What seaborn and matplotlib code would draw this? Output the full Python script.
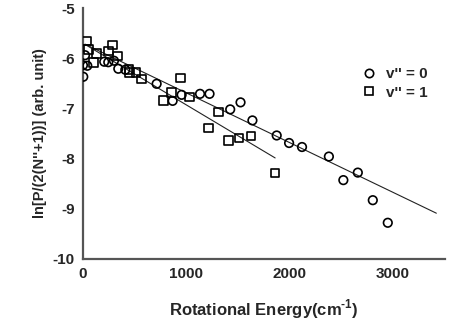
import numpy as np
import pandas as pd
import matplotlib
matplotlib.use("Agg")
import matplotlib.pyplot as plt
import seaborn as sns

# v'' = 0 (circles)
v0_x = [3, 0, 42, 20, 206, 245, 300, 342, 410, 713, 868, 955, 1133, 1225, 1425, 1525, 1640, 1875, 1995, 2120, 2380, 2520, 2660, 2805, 2950]
v0_y = [-6.37, -6.14, -6.15, -5.94, -6.07, -6.08, -6.05, -6.21, -6.23, -6.51, -6.85, -6.73, -6.71, -6.71, -7.02, -6.88, -7.24, -7.54, -7.69, -7.77, -7.96, -8.43, -8.28, -8.83, -9.28]
# v'' = 1 (squares)
v1_x = [36, 51, 100, 132, 245, 287, 336, 445, 450, 513, 568, 777, 859, 946, 1029, 1216, 1313, 1411, 1511, 1626, 1859]
v1_y = [-5.66, -5.83, -6.09, -5.91, -5.86, -5.74, -5.96, -6.23, -6.29, -6.29, -6.41, -6.84, -6.68, -6.39, -6.77, -7.39, -7.07, -7.64, -7.59, -7.55, -8.29]

# fitted lines (intercept, slope, x-range)
fit0 = dict(intercept=-5.70, slope=-0.000991, xmin=20, xmax=3420)
fit1 = dict(intercept=-5.70, slope=-0.00123, xmin=20, xmax=1860)

labels = ["v'' = 0", "v'' = 1"]
x_ticks = [0, 1000, 2000, 3000]
y_ticks = [-10, -9, -8, -7, -6, -5]

sns.set_style("white")
plt.rcParams['font.family'] = ['Liberation Sans', 'DejaVu Sans']
plt.rcParams['font.weight'] = 'bold'
plt.rcParams['mathtext.fontset'] = 'custom'
plt.rcParams['mathtext.rm'] = 'Liberation Sans:bold'
plt.rcParams['mathtext.bf'] = 'Liberation Sans:bold'

df = pd.DataFrame({
    "E": v0_x + v1_x,
    "lnP": v0_y + v1_y,
    "state": [labels[0]] * len(v0_x) + [labels[1]] * len(v1_x),
})

fig = plt.figure(figsize=(4.74, 3.22), dpi=100)
ax = fig.add_axes([0.175, 0.196, 0.763, 0.779])

for f in (fit0, fit1):
    xs = np.array([f["xmin"], f["xmax"]])
    ax.plot(xs, f["intercept"] + f["slope"] * xs, color="#222222", lw=0.8, zorder=1)

sns.scatterplot(data=df, x="E", y="lnP", style="state", markers={labels[0]: "o", labels[1]: "s"},
                s=38, facecolor="none", edgecolor="black", linewidth=1.2, ax=ax, zorder=3,
                legend=True)

ax.set_xlim(0, 3500)
ax.set_ylim(-10, -5)
ax.set_xticks(x_ticks)
ax.set_yticks(y_ticks)
ax.set_xticklabels([str(t) for t in x_ticks], fontsize=11, fontweight="bold")
ax.set_yticklabels([str(t) for t in y_ticks], fontsize=11, fontweight="bold")
ax.tick_params(axis="both", direction="in", length=3, width=1, color="#666666", pad=6)

for s in ["top", "right"]:
    ax.spines[s].set_visible(False)
for s in ["left", "bottom"]:
    ax.spines[s].set_color("#555555")
    ax.spines[s].set_linewidth(1.6)

ax.set_xlabel("Rotational Energy(cm$^{\\text{-1}}$)", fontsize=12, fontweight="bold", labelpad=12)
ax.set_ylabel("ln[P/(2(N''+1))] (arb. unit)", fontsize=10.5, fontweight="bold", labelpad=4)

handles, labs = ax.get_legend_handles_labels()
for h in handles:
    h.set_markerfacecolor("none")
    h.set_markeredgecolor("black")
    h.set_markersize(6)
leg = ax.legend(handles, labs, loc="upper left", bbox_to_anchor=(0.71, 0.82), frameon=False,
                fontsize=11, handletextpad=0.1, labelspacing=0.3, markerscale=1.0)
for t in leg.get_texts():
    t.set_fontweight("bold")

fig.savefig("out.png", dpi=100)
